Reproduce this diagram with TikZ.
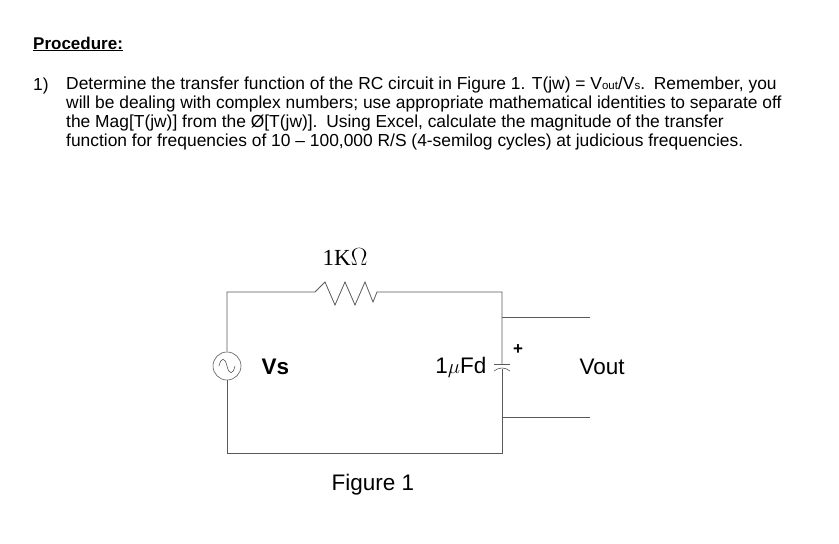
\documentclass[tikz,border=0pt]{standalone}
\usepackage{fontspec}
\setmainfont{Liberation Sans}
\newfontfamily\serifit{Liberation Serif}
\begin{document}
\begin{tikzpicture}[x=1pt,y=-1pt,
  wire/.style={draw=black!65,line width=0.8pt},
  body/.style={font=\fontsize{17.4}{19}\selectfont,anchor=west,inner sep=0pt}]
\useasboundingbox (0,0) rectangle (839,544);
\node[body,font=\bfseries\fontsize{17}{19}\selectfont] (hd) at (33,44) {\underline{Procedure:}};
\node[body] (num) at (33,86) {1)};
\node[body,align=left,anchor=north west] (txt) at (66,77) {Determine the transfer function of the RC circuit in Figure 1. T(jw) = V{\fontsize{11.5}{11}\selectfont out}/V{\fontsize{11.5}{11}\selectfont s}.\enspace Remember, you\\
will be dealing with complex numbers; use appropriate mathematical identities to separate off\\
the Mag[T(jw)] from the Ø[T(jw)].\enspace Using Excel, calculate the magnitude of the transfer\\
function for frequencies of 10 -- 100,000 R/S (4-semilog cycles) at judicious frequencies.};
% circuit
\coordinate (tl) at (227,292);
\coordinate (tr) at (502,292);
\coordinate (bl) at (227,453);
\coordinate (br) at (502,453);
\coordinate (r1) at (315,292);
\coordinate (r2) at (377,292);
\node[circle,draw=black!65,line width=0.6pt,minimum size=28pt,inner sep=0pt] (src) at (227,366) {};
\node[inner sep=0pt,minimum size=4pt] (cap) at (502,367) {};
\draw[wire] (src.north) -- (tl) -- (r1) -- ++(10,-10) -- ++(10,23) -- ++(10,-23) -- ++(10,23) -- ++(10,-23) -- ++(8,20) -- (r2) -- (tr) -- (cap.north);
\draw[wire] (src.south) -- (bl) -- (br) -- (cap.south);
\draw[black!65,line width=0.6pt] (src.center) ++(-8,0) .. controls ++(2,-9) and ++(-2,-9) .. ++(8,0) .. controls ++(2,9) and ++(-2,9) .. ++(8,0);
\draw[black!65,line width=0.6pt] (494,364) -- (510,364);
\draw[black!65,line width=0.6pt] (494,371) .. controls (499,367) and (505,367) .. (510,371);
\coordinate (o1) at (590,317);
\coordinate (o2) at (590,417);
\draw[wire] (502,317) -- (o1);
\draw[wire] (502,417) -- (o2);
\node[font=\serifit\fontsize{23}{23}\selectfont] (rl) at (345,257) {1K$\Omega$};
\node[font=\bfseries\fontsize{22.5}{22}\selectfont,anchor=west] (vs) at (258,367) {Vs};
\node[font=\fontsize{22.5}{22}\selectfont,anchor=east] (cl) at (490,367) {1$\mu$Fd};
\node[font=\bfseries\fontsize{17}{17}\selectfont] (pl) at (518,350) {+};
\node[font=\fontsize{22.5}{22}\selectfont,anchor=west] (vo) at (576,367) {Vout};
\node[font=\fontsize{22.5}{22}\selectfont] (fig) at (373,485) {Figure 1};
\end{tikzpicture}
\end{document}
